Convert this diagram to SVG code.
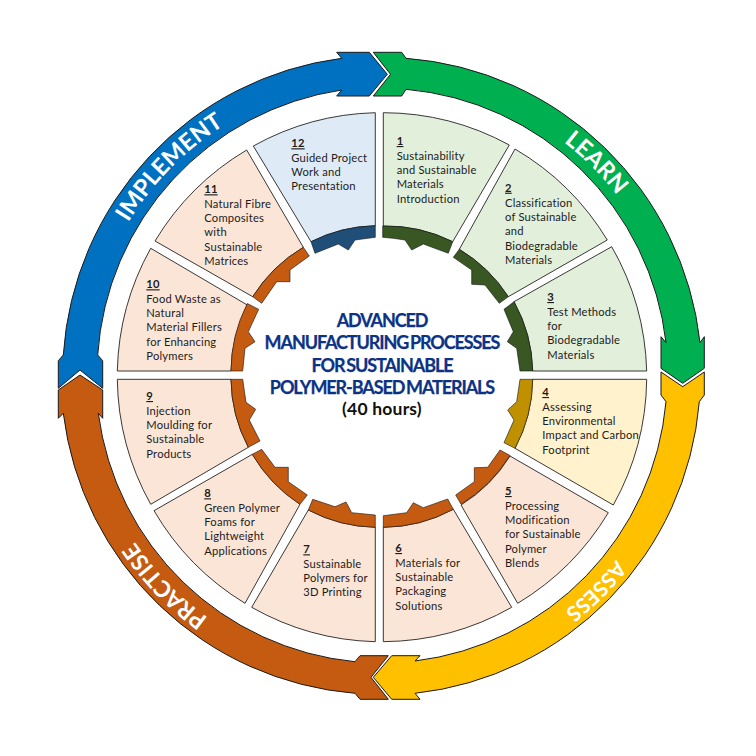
<svg xmlns="http://www.w3.org/2000/svg" width="756" height="756" viewBox="0 0 756 756">
<style>
text{font-family:"Lato","Open Sans","Liberation Sans",sans-serif}
.a{stroke:#1a1a1a;stroke-width:1;stroke-linejoin:miter}
.s{stroke:#222;stroke-width:.9;stroke-linejoin:miter}
.b{stroke:#111;stroke-width:.6;stroke-linejoin:miter}
.gr{fill:#E2EFDA}.ye{fill:#FFF2CC}.or{fill:#FBE5D6}.bl{fill:#DEEBF7}
.bg{fill:#385723}.by{fill:#BF9000}.bo{fill:#C55A11}.bb{fill:#1F4E79}
.t{font-size:11.2px;fill:#1c1c1c;letter-spacing:.2px}
.n{font-weight:700;text-decoration:underline}
.lab{font-size:23.5px;font-weight:700;fill:#fff;text-anchor:middle}
.h{font-size:18px;font-weight:700;fill:#0B3285;stroke:#0B3285;stroke-width:.25;text-anchor:middle;letter-spacing:-1.1px;word-spacing:-1.5px}
</style>
<defs><path id="ring" d="M382,80A297,297 0 1 1 381.9,80"/></defs>
<g id="connectors">
<path id="arrow-learn" class="a" fill="#00B050" d="M373.3,52.3H401.7L406,58.3A320,320 0 0 1 700,342.7L704.3,336.7V368.3L682.7,383.3L661,368.3V336.7L666,342.7A287,287 0 0 0 406,89.3L401.7,96H373.3L390.5,74.3Z"/>
<path id="arrow-assess" class="a" fill="#FFC000" d="M661,372L682.7,386.7L704.3,372V395L699.3,401.7A320,320 0 0 1 415,693.3L420,699.3H391.7L373.3,677.3L391.7,655.7H420L415,661A287,287 0 0 0 666,401.7L661,395Z"/>
<path id="arrow-practise" class="a" fill="#C55A11" d="M388.3,655.7L371,677.3L388.3,699.3H360L355,693.3A320,320 0 0 1 63.3,413.3L58.3,418.3V390L80,375L102.7,390V418.3L98.3,413.3A287,287 0 0 0 355,661.7L360,655.7Z"/>
<path id="arrow-implement" class="a" fill="#0070C0" d="M58.3,388.3L80,370L102.7,388.3V360.7L97.7,355A287,287 0 0 1 341.7,90L336.7,96H369.3L387.3,74.3L369.3,52.3H336.7L341.7,58.3A320,320 0 0 0 63.3,355L58.3,360.7Z"/>
</g>
<g id="arrow-labels">
<text class="lab"><textPath href="#ring" startOffset="12.5%">LEARN</textPath></text>
<text class="lab" style="font-size:21px"><textPath href="#ring" startOffset="37.5%">ASSESS</textPath></text>
<text class="lab" style="font-size:23px"><textPath href="#ring" startOffset="62.8%">PRACTISE</textPath></text>
<text class="lab"><textPath href="#ring" startOffset="87.4%">IMPLEMENT</textPath></text>
</g>
<g id="node-1">
<path class="s gr" d="M383.3,112.7A265,265 0 0 1 509.3,145L452.7,241.7A150,150 0 0 0 383.3,226Z"/>
<path class="b bg" d="M382.7,226A150,150 0 0 1 452.7,241.7L448.3,253.3L423.3,244L411.7,250L405,240Q393,238 382.7,237.3Z"/>
<text class="t"><tspan class="n" x="396.7" y="145">1</tspan><tspan x="396.7" y="160">Sustainability</tspan><tspan x="396.7" y="174">and Sustainable</tspan><tspan x="396.7" y="188">Materials</tspan><tspan x="396.7" y="202.7">Introduction</tspan></text>
</g>
<g id="node-2">
<path class="s gr" d="M515,149A265,265 0 0 1 607.3,240L508.3,296.7A150,150 0 0 0 459.3,249.3Z"/>
<path class="b bg" d="M459.3,249.3A150,150 0 0 1 508.3,296.7L499.3,303.3L485,285L471.7,284.3V270L453.3,257.3Z"/>
<text class="t"><tspan class="n" x="505" y="191.7">2</tspan><tspan x="505" y="206.7">Classification</tspan><tspan x="505" y="221">of Sustainable</tspan><tspan x="505" y="235">and</tspan><tspan x="505" y="250">Biodegradable</tspan><tspan x="505" y="264">Materials</tspan></text>
</g>
<g id="node-3">
<path class="s gr" d="M611.7,246.7A265,265 0 0 1 646.7,371H532.7A150,150 0 0 0 514,301.7Z"/>
<path class="b bg" d="M514,301.7A150,150 0 0 1 532.7,371H520L516.7,348.3L507.3,341.7L513.3,331.7L504,309.3Z"/>
<text class="t"><tspan class="n" x="547.3" y="301">3</tspan><tspan x="547.3" y="316">Test Methods</tspan><tspan x="547.3" y="330">for</tspan><tspan x="547.3" y="344">Biodegradable</tspan><tspan x="547.3" y="358.7">Materials</tspan></text>
</g>
<g id="node-4">
<path class="s ye" d="M646.7,379.3A265,265 0 0 1 613.3,505L515,448.3A150,150 0 0 0 532.7,379.3Z"/>
<path class="b by" d="M520,379.3H532.7A150,150 0 0 1 515,448.3L504,442.7L514,420L507.7,410L516.7,401.7Z"/>
<text class="t"><tspan class="n" x="542.3" y="396">4</tspan><tspan x="542.3" y="410.7">Assessing</tspan><tspan x="542.3" y="425">Environmental</tspan><tspan x="542.3" y="439">Impact and Carbon</tspan><tspan x="542.3" y="453.7">Footprint</tspan></text>
</g>
<g id="node-5">
<path class="s or" d="M608.3,512.7A265,265 0 0 1 517.7,603.3L461,505A150,150 0 0 0 510,456Z"/>
<path class="b bo" d="M510,455.5A150,150 0 0 1 461,504.3L455.7,495L474.3,481.7V467.7L487.7,467.3L500,450Z"/>
<text class="t"><tspan class="n" x="505" y="495">5</tspan><tspan x="505" y="510">Processing</tspan><tspan x="505" y="524">Modification</tspan><tspan x="505" y="538">for Sustainable</tspan><tspan x="505" y="552.7">Polymer</tspan><tspan x="505" y="566.7">Blends</tspan></text>
</g>
<g id="node-6">
<path class="s or" d="M511.7,607.3A265,265 0 0 1 383.3,641.7V527.3A150,150 0 0 0 453.3,509.3Z"/>
<path class="b bo" d="M383.3,527.3V515.7L406.7,512.7L413.3,502.7L423.3,507.7L447.7,499L453.3,509.3A150,150 0 0 1 383.3,527.3Z"/>
<text class="t"><tspan class="n" x="395.3" y="552">6</tspan><tspan x="395.3" y="566.7">Materials for</tspan><tspan x="395.3" y="580.7">Sustainable</tspan><tspan x="395.3" y="595">Packaging</tspan><tspan x="395.3" y="609.7">Solutions</tspan></text>
</g>
<g id="node-7">
<path class="s or" d="M375.3,641.7A265,265 0 0 1 251.7,607.3L308.3,510A150,150 0 0 0 375.3,527.3Z"/>
<path class="b bo" d="M375.3,527.3V515L351.7,512.7L346,502L335,506.7L312.7,499.3L308.3,510A150,150 0 0 0 375.3,527.3Z"/>
<text class="t"><tspan class="n" x="303.3" y="553.3">7</tspan><tspan x="303.3" y="568">Sustainable</tspan><tspan x="303.3" y="582">Polymers for</tspan><tspan x="303.3" y="596">3D Printing</tspan></text>
</g>
<g id="node-8">
<path class="s or" d="M245,603.3A265,265 0 0 1 154,510.7L252.3,454.3A150,150 0 0 0 300,504.3Z"/>
<path class="b bo" d="M252.3,454.3L261.7,449.3L275,467.3H288.3V481.7L307.3,495L300,504.3A150,150 0 0 1 252.3,454.3Z"/>
<text class="t"><tspan class="n" x="204.3" y="497.3">8</tspan><tspan x="204.3" y="511.7">Green Polymer</tspan><tspan x="204.3" y="525.7">Foams for</tspan><tspan x="204.3" y="540">Lightweight</tspan><tspan x="204.3" y="554.7">Applications</tspan></text>
</g>
<g id="node-9">
<path class="s or" d="M117.3,379.3A265,265 0 0 0 150.7,504.3L248.3,447.3A150,150 0 0 1 231,379.3Z"/>
<path class="b bo" d="M231,379.3H242.7L246,402.3L255.7,409.3L249.3,420L260,441L248.3,447.3A150,150 0 0 1 231,379.3Z"/>
<text class="t"><tspan class="n" x="146.3" y="400">9</tspan><tspan x="146.3" y="415">Injection</tspan><tspan x="146.3" y="429">Moulding for</tspan><tspan x="146.3" y="443">Sustainable</tspan><tspan x="146.3" y="457.7">Products</tspan></text>
</g>
<g id="node-10">
<path class="s or" d="M117.3,371A265,265 0 0 1 150.7,248.3L247.3,305A150,150 0 0 0 231,371Z"/>
<path class="b bo" d="M231,371H242.7L245,348.3L255,341.7L248.3,331.7L258.7,309.3L247.3,303.5A150,150 0 0 0 231,371Z"/>
<text class="t"><tspan class="n" x="146.3" y="288.3">10</tspan><tspan x="146.3" y="302.7">Food Waste as</tspan><tspan x="146.3" y="316.7">Natural</tspan><tspan x="146.3" y="330.7">Material Fillers</tspan><tspan x="146.3" y="345.7">for Enhancing</tspan><tspan x="146.3" y="359.7">Polymers</tspan></text>
</g>
<g id="node-11">
<path class="s or" d="M155,241A265,265 0 0 1 246.7,150L303.3,247.3A150,150 0 0 0 252.7,296.7Z"/>
<path class="b bo" d="M303.3,247.3L309.3,256L290,270V281.7H276.7L261.7,303.3L252.7,296.7A150,150 0 0 1 303.3,247.3Z"/>
<text class="t"><tspan class="n" x="204.3" y="193.3">11</tspan><tspan x="204.3" y="207.7">Natural Fibre</tspan><tspan x="204.3" y="221.7">Composites</tspan><tspan x="204.3" y="235.7">with</tspan><tspan x="204.3" y="250.7">Sustainable</tspan><tspan x="204.3" y="264.7">Matrices</tspan></text>
</g>
<g id="node-12">
<path class="s bl" d="M253.3,146A265,265 0 0 1 375.3,112.7V225.7A150,150 0 0 0 311,241.7Z"/>
<path class="b bb" d="M375.3,225.7V237.3L355,240L348.3,250L338.3,244L315,253.3L311,241.7A150,150 0 0 1 375.3,225.7Z"/>
<text class="t"><tspan class="n" x="291.3" y="147.3">12</tspan><tspan x="291.3" y="161.7">Guided Project</tspan><tspan x="291.3" y="175.7">Work and</tspan><tspan x="291.3" y="190">Presentation</tspan></text>
</g>
<g id="center">
<text class="h"><tspan x="382" y="327.3">ADVANCED</tspan><tspan x="382" y="349.3">MANUFACTURING PROCESSES</tspan><tspan x="382" y="371.7">FOR SUSTAINABLE</tspan><tspan x="382" y="394.3">POLYMER-BASED MATERIALS</tspan></text>
<text x="382" y="415" font-size="17.5" font-weight="700" fill="#111" text-anchor="middle" letter-spacing=".2">(40 hours)</text>
</g>
</svg>
